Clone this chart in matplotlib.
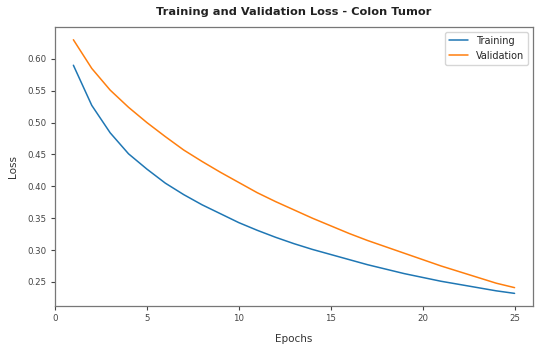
import matplotlib
matplotlib.use("Agg")
import matplotlib.pyplot as plt
import seaborn as sns

epochs = list(range(1, 26))
train_loss = [0.590, 0.527, 0.484, 0.451, 0.427, 0.405, 0.387, 0.371, 0.357, 0.343,
              0.331, 0.320, 0.310, 0.301, 0.293, 0.285, 0.277, 0.270, 0.263, 0.257,
              0.251, 0.246, 0.241, 0.236, 0.232]
val_loss = [0.630, 0.585, 0.551, 0.524, 0.500, 0.478, 0.457, 0.439, 0.422, 0.406,
            0.390, 0.376, 0.363, 0.350, 0.338, 0.326, 0.315, 0.305, 0.295, 0.285,
            0.275, 0.266, 0.257, 0.248, 0.241]

sns.set_style("ticks")
plt.rcParams['font.family'] = ['DejaVu Sans']

fig = plt.figure(figsize=(5.5, 3.47), dpi=100)
ax = fig.add_axes([0.1, 0.118, 0.869, 0.804])

ax.plot(epochs, train_loss, color="#1f77b4", lw=1.1, label="Training")
ax.plot(epochs, val_loss, color="#ff7f0e", lw=1.1, label="Validation")

ax.set_xlim(0, 26)
ax.set_xticks([0, 5, 10, 15, 20, 25])
ax.set_yticks([0.25, 0.30, 0.35, 0.40, 0.45, 0.50, 0.55, 0.60])
ax.tick_params(labelsize=6.2, length=3, width=0.8, colors="#444444", pad=3)
for s in ax.spines.values():
    s.set_color("#777777")
    s.set_linewidth(0.9)

ax.set_xlabel("Epochs", fontsize=7.5, color="#333333", labelpad=8)
ax.set_ylabel("Loss", fontsize=7.5, color="#333333", labelpad=7)
ax.set_title("Training and Validation Loss - Colon Tumor", fontsize=8.2,
             fontweight="bold", color="#222222", pad=9)
ax.legend(loc="upper right", fontsize=7, frameon=True)

fig.savefig("out.png", dpi=100)
